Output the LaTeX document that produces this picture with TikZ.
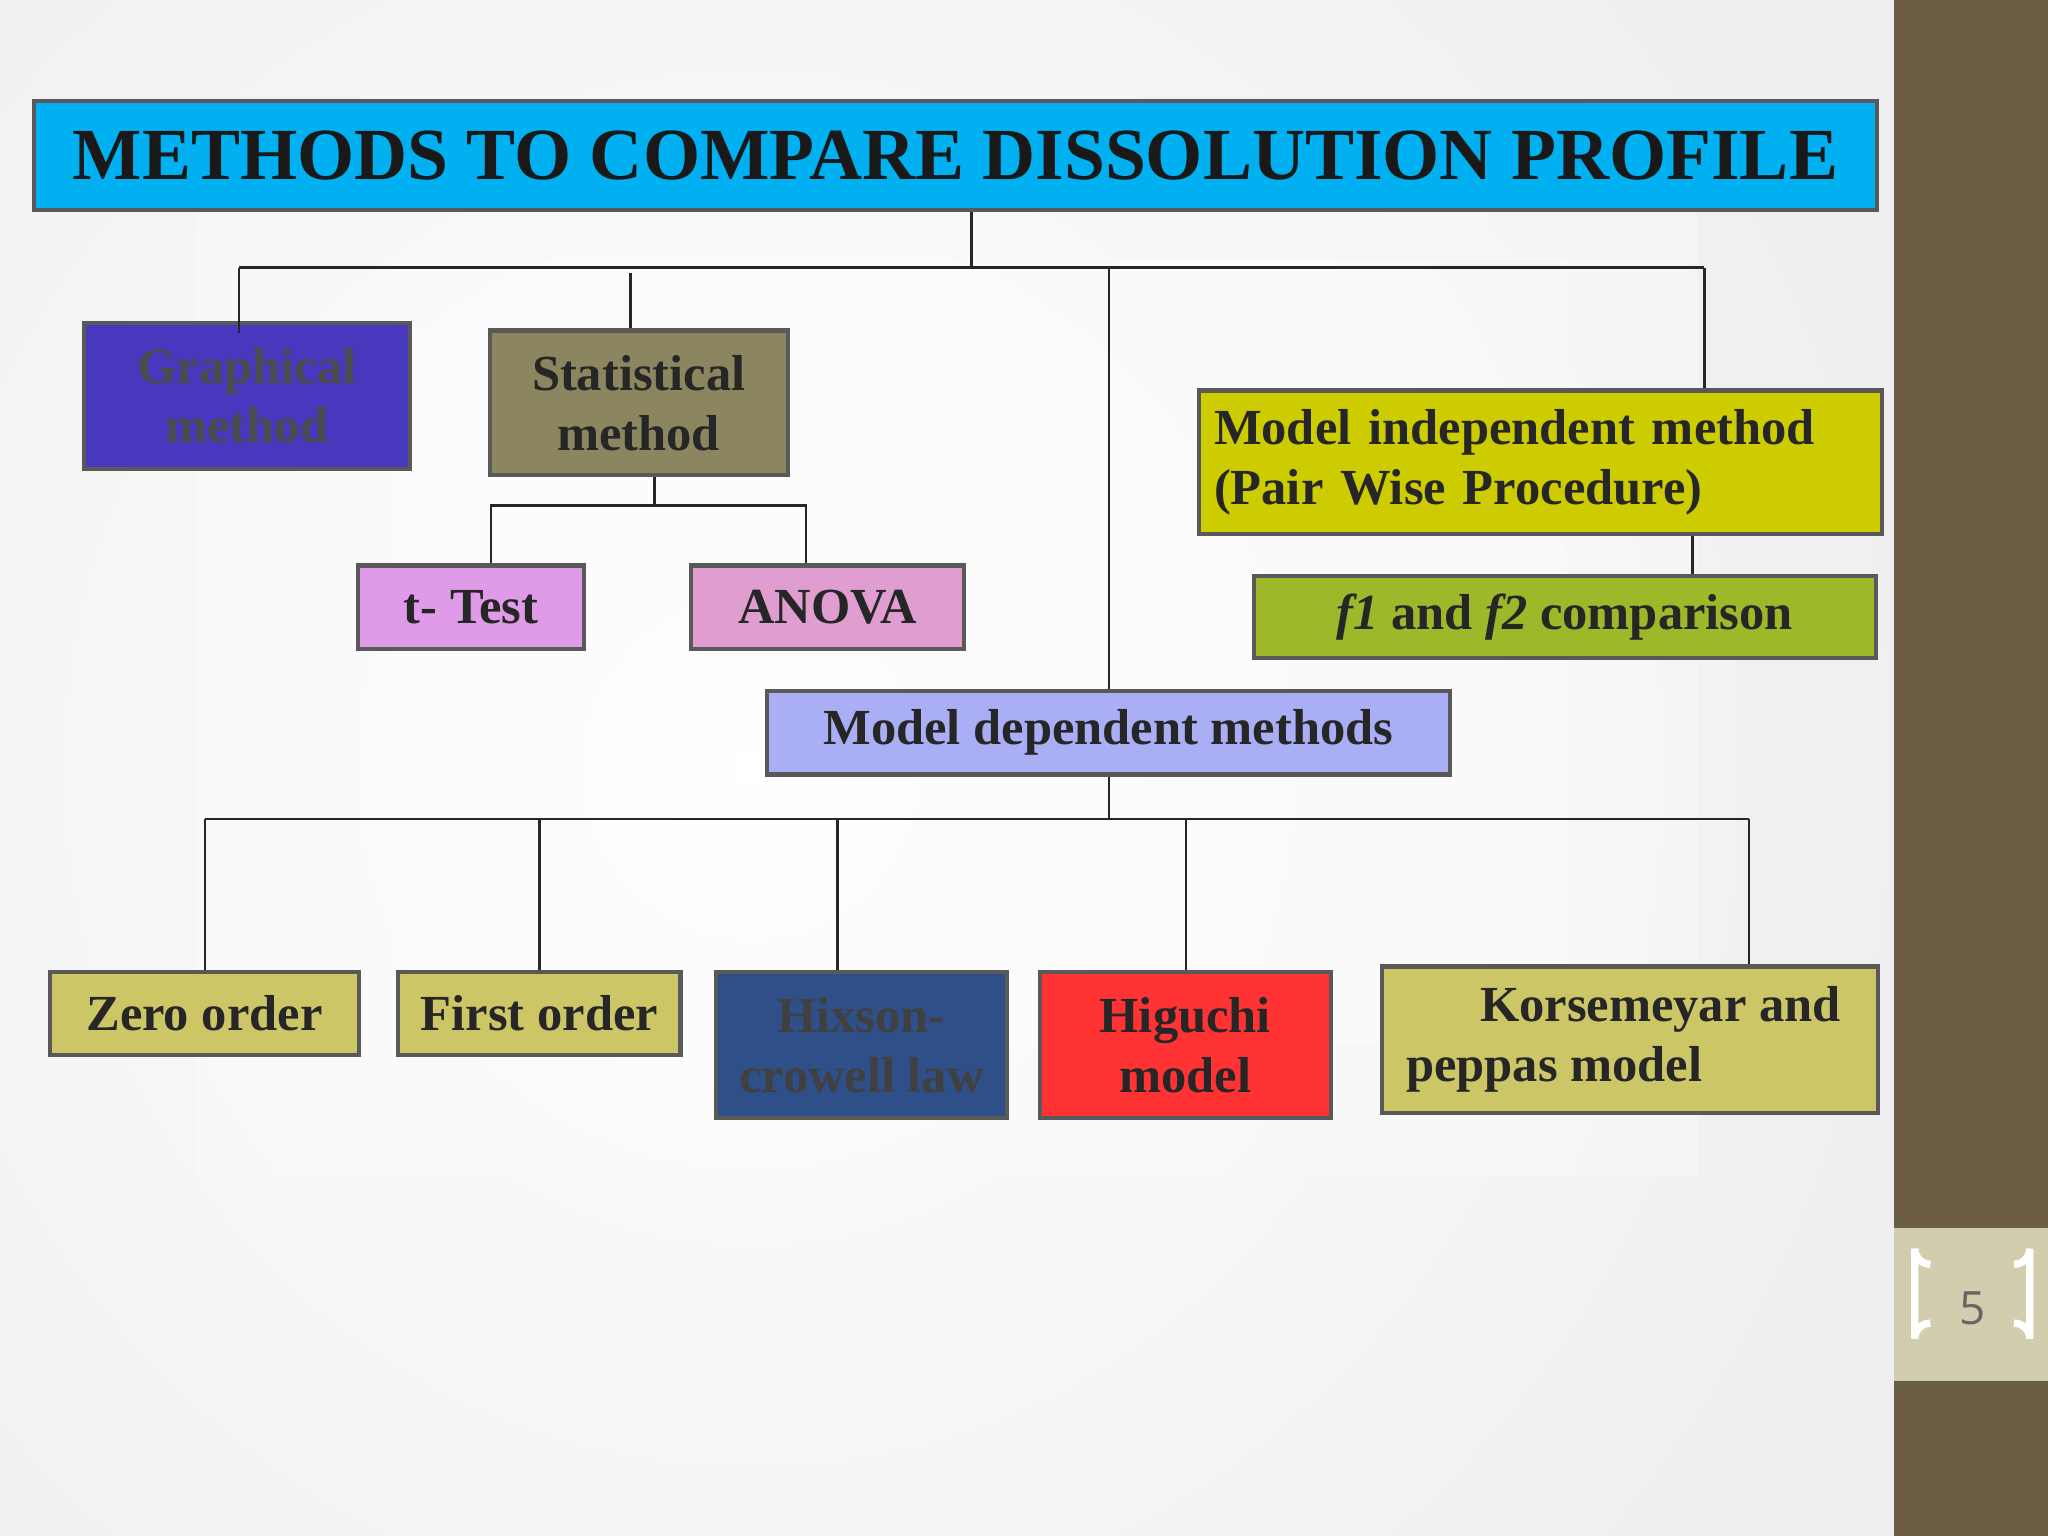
\documentclass[tikz,border=0pt]{standalone}
\usepackage{fontspec}
\setmainfont{Liberation Serif}
\setsansfont{Open Sans}
\begin{document}
\begin{tikzpicture}[x=0.01cm,y=-0.01cm,
  box/.style={draw=black!65, line width=0.9pt, inner sep=0pt, align=center, font=\bfseries\fontsize{11}{13}\selectfont, text=black!85},
  ln/.style={draw=black!85, line width=0.6pt}]
\useasboundingbox (0,0) rectangle (1568,1176);
\shade[inner color=white, outer color=black!12] (-300,-300) rectangle (1450,1476);
\fill[white,opacity=0.5] (0,0) rectangle (1450,1176);
\fill[white,opacity=0.3] (150,100) rectangle (1300,900);
\fill[white,opacity=0.3] (300,200) rectangle (1200,800);
% right bar
\fill[fill={rgb,255:red,107;green,94;blue,69}] (1450,0) rectangle (1568,1176);
\fill[fill={rgb,255:red,210;green,205;blue,175}] (1450,940) rectangle (1568,1057);
\draw[white, line width=1.6pt] (1478,968) arc[start angle=90,end angle=180,radius=12] -- (1466,1025) arc[start angle=180,end angle=270,radius=12];
\draw[white, line width=1.6pt] (1542,968) arc[start angle=90,end angle=0,radius=12] -- (1554,1025) arc[start angle=0,end angle=-90,radius=12];
\node[font=\sffamily\fontsize{10}{12}\selectfont, text=black!60] (pg) at (1510,1002) {5};
% boxes
\node[box, fill={rgb,255:red,0;green,176;blue,240}, minimum width=1411*0.01cm, minimum height=84*0.01cm, font=\bfseries\fontsize{16}{18}\selectfont, text=black!90] (title) at (731.5,119) {METHODS TO COMPARE DISSOLUTION PROFILE};
\node[box, fill={rgb,255:red,72;green,56;blue,190}, minimum width=250*0.01cm, minimum height=112*0.01cm, text=black!70] (gr) at (189,303) {Graphical\\method};
\node[box, fill={rgb,255:red,139;green,134;blue,96}, minimum width=228*0.01cm, minimum height=111*0.01cm] (st) at (489,308.5) {Statistical\\method};
\node[box, fill={rgb,255:red,224;green,155;blue,232}, minimum width=173*0.01cm, minimum height=64*0.01cm] (tt) at (360.5,465) {t- Test};
\node[box, fill={rgb,255:red,224;green,158;blue,208}, minimum width=209*0.01cm, minimum height=64*0.01cm] (an) at (633.5,465) {ANOVA};
\node[box, fill={rgb,255:red,204;green,204;blue,0}, minimum width=523*0.01cm, minimum height=110*0.01cm, align=left, text width=500*0.01cm] (mi) at (1179.5,354) {Model independent method\\(Pair Wise Procedure)};
\node[box, fill={rgb,255:red,157;green,184;blue,41}, minimum width=476*0.01cm, minimum height=63*0.01cm] (ff) at (1198,472.5) {\textit{f1} and \textit{f2} comparison};
\node[box, fill={rgb,255:red,170;green,175;blue,245}, minimum width=523*0.01cm, minimum height=64*0.01cm] (md) at (848.5,561) {Model dependent methods};
\node[box, fill={rgb,255:red,204;green,198;blue,103}, minimum width=237*0.01cm, minimum height=64*0.01cm] (zo) at (156.5,776) {Zero order};
\node[box, fill={rgb,255:red,204;green,198;blue,103}, minimum width=216*0.01cm, minimum height=64*0.01cm] (fo) at (413,776) {First order};
\node[box, fill={rgb,255:red,47;green,79;blue,136}, minimum width=223*0.01cm, minimum height=112*0.01cm, text=black!75] (hx) at (659.5,800) {Hixson-\\crowell law};
\node[box, fill={rgb,255:red,255;green,51;blue,51}, minimum width=223*0.01cm, minimum height=112*0.01cm] (hg) at (907.5,800) {Higuchi\\model};
\node[box, fill={rgb,255:red,204;green,198;blue,103}, minimum width=380*0.01cm, minimum height=112*0.01cm] (kp) at (1248,796) {\hspace*{1.2em}Korsemeyar and\\peppas model\hspace*{3em}};
% connectors
\coordinate (t0) at (744,206);
\draw[ln] (title.south -| t0) -- (t0);
\draw[ln] (183,205) -- (1305,205);
\draw[ln] (183,205) -- (183,255);
\draw[ln] (483,209) -- (st.north -| 483,0);
\draw[ln] (849,205) -- (md.north -| 849,0);
\draw[ln] (1305,205) -- (mi.north -| 1305,0);
\draw[ln] (st.south -| 501,0) -- (501,387);
\draw[ln] (tt.north -| 376,0) -- (376,387) -- (617,387) -- (an.north -| 617,0);
\draw[ln] (mi.south -| 1296,0) -- (ff.north -| 1296,0);
\draw[ln] (md.south -| 849,0) -- (849,627);
\draw[ln] (157,627) -- (1339,627);
\draw[ln] (157,627) -- (zo.north -| 157,0);
\draw[ln] (413,627) -- (fo.north -| 413,0);
\draw[ln] (641,627) -- (hx.north -| 641,0);
\draw[ln] (908,627) -- (hg.north -| 908,0);
\draw[ln] (1339,627) -- (kp.north -| 1339,0);
\end{tikzpicture}
\end{document}
